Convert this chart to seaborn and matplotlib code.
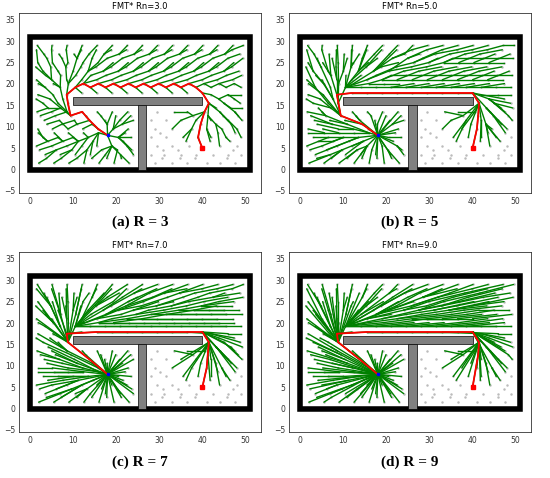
import heapq
import numpy as np
import matplotlib
matplotlib.use('Agg')
import matplotlib.pyplot as plt
import seaborn as sns
from matplotlib.patches import Rectangle

sns.set_style('white')
plt.rcParams['text.color'] = 'black'
plt.rcParams['xtick.color'] = '#333333'
plt.rcParams['ytick.color'] = '#333333'

# sample rows (y, xs) read roughly from the gray dots / tree nodes
rows = [
    (1.5, [2, 5.5, 9, 12.5, 16, 19.5, 23, 29, 33, 36.5, 41, 44, 47.5]),
    (2.6, [3.8, 7.2, 10.8, 14.3, 17.8, 21.2, 30.6, 34.8, 38.2, 45.8]),
    (3.5, [3.5, 7, 10.5, 14, 17.5, 21, 24, 28, 31, 35, 38.5, 42.5, 46, 49]),
    (4.6, [2.2, 6.1, 9.7, 13.2, 16.6, 20.3, 23.6, 30.8, 34.4, 47.2]),
    (5.5, [1.5, 5, 8.5, 12, 15.5, 19, 22.5, 29.5, 33, 37, 44, 48]),
    (6.6, [4.1, 7.6, 11.2, 14.6, 21.6, 36.2, 41.8, 46.4]),
    (7.5, [3, 6.5, 10, 13.5, 20.5, 23.5, 28, 31.5, 35.5, 39, 42, 45.5, 49]),
    (8.6, [1.9, 5.6, 8.9, 12.4, 15.9, 22.1, 30.2, 43.6, 47.6]),
    (9.5, [1.8, 5.2, 8.8, 12.2, 15.8, 19.3, 22.8, 29, 33, 37.5, 41, 44.5, 48]),
    (10.6, [3.9, 7.4, 10.9, 14.4, 17.9, 21.4, 39.6, 43.1, 46.7]),
    (11.5, [3.3, 6.8, 10.3, 13.8, 17.3, 20.8, 24, 28, 31.5, 35, 38.5, 42, 46, 49.2]),
    (12.6, [2.4, 5.9, 9.4, 12.9, 16.4, 19.9, 23.4, 37.8, 41.3, 44.8, 48.3]),
    (13.5, [1.6, 5, 8.6, 12.1, 15.6, 19.1, 22.7, 29.5, 33.5, 36.5, 40.5, 44, 47.5]),
    (14.4, [4.2, 7.1, 43.2, 46.6, 49.3]),
    (15.5, [3, 6.5, 8.8, 41.5, 45, 48.8]),
    (16.5, [1.4, 4.6, 7.6, 43.8, 47.4]),
    (17.5, [1.8, 5.3, 8.5, 42, 46, 49]),
    (17.9, [12, 15.5, 19, 22.5, 26, 29.5, 33, 36.5, 40]),
    (19.2, [3.5, 7, 10.5, 14, 17.5, 21, 24.5, 28, 31.5, 35, 38.5, 42, 45.5, 49]),
    (20.1, [1.9, 5.4, 8.9, 12.4, 15.9, 19.4, 22.9, 26.4, 29.9, 33.4, 36.9, 40.4, 43.9, 47.4]),
    (21, [1.5, 5, 8.5, 12, 15.5, 19, 22.5, 26, 29.5, 33, 36.5, 40, 43.5, 47]),
    (22, [3.6, 7.1, 10.6, 14.1, 17.6, 21.1, 24.6, 28.1, 31.6, 35.1, 38.6, 42.1, 45.6, 49.1]),
    (23, [3, 6.5, 10, 13.5, 17, 20.5, 24, 27.5, 31, 34.5, 38, 41.5, 45, 48.5]),
    (24, [1.3, 4.8, 8.3, 11.8, 15.3, 18.8, 22.3, 25.8, 29.3, 32.8, 36.3, 39.8, 43.3, 46.8]),
    (25, [1.8, 5.2, 8.8, 12.3, 15.8, 19.3, 22.8, 26.3, 29.8, 33.3, 36.8, 40.3, 43.8, 47.3]),
    (26, [3.9, 7.4, 10.9, 14.4, 17.9, 21.4, 24.9, 28.4, 31.9, 35.4, 38.9, 42.4, 45.9, 49.4]),
    (27, [3.2, 6.7, 10.2, 13.7, 17.2, 20.7, 24.2, 27.7, 31.2, 34.7, 38.2, 41.7, 45.2, 48.7]),
    (28, [1.5, 5.0, 8.4, 11.9, 15.4, 18.9, 22.4, 25.9, 29.4, 32.9, 36.4, 39.9, 43.4, 46.9]),
    (29, [1.7, 5.1, 8.6, 12.1, 15.6, 19.1, 22.6, 26.1, 29.6, 33.1, 36.6, 40.1, 43.6, 47.1, 49.5]),
]
start = (18, 8)
goal = (40, 5)
radii = [3.0, 5.0, 7.0, 9.0]
captions = ['(a) R = 3', '(b) R = 5', '(c) R = 7', '(d) R = 9']

# obstacles: x, y, w, h
bar = (10, 15, 30, 2)
stem = (25, 0, 2, 15)

pts = [start, goal] + [(x, y) for y, xs in rows for x in xs]
pts = np.array(pts, dtype=float)


def blocked(p, q):
    for t in np.linspace(0, 1, 25):
        x, y = p + t * (q - p)
        for bx, by, bw, bh in (bar, stem):
            if bx - 0.3 <= x <= bx + bw + 0.3 and by - 0.3 <= y <= by + bh + 0.3:
                return True
    return False


def grow(r):
    n = len(pts)
    cost = np.full(n, np.inf)
    parent = [-1] * n
    cost[0] = 0
    heap = [(0.0, 0)]
    done = set()
    while heap:
        c, i = heapq.heappop(heap)
        if i in done:
            continue
        done.add(i)
        if i == 1:
            break
        for j in range(n):
            if j in done:
                continue
            d = np.hypot(*(pts[j] - pts[i]))
            if d <= r and c + d < cost[j] and not blocked(pts[i], pts[j]):
                cost[j] = c + d
                parent[j] = i
                heapq.heappush(heap, (cost[j], j))
    return done, parent


fig, axes = plt.subplots(2, 2, figsize=(5.5, 4.78), dpi=100)
plt.subplots_adjust(left=0.035, right=0.965, top=0.972, bottom=0.096, wspace=0.12, hspace=0.33)

for ax, r, cap in zip(axes.flat, radii, captions):
    done, parent = grow(r * 1.1)
    ax.scatter(pts[:, 0], pts[:, 1], s=0.6, c='#bbbbbb', zorder=1)
    for j in done:
        if parent[j] >= 0:
            p, q = pts[parent[j]], pts[j]
            ax.plot([p[0], q[0]], [p[1], q[1]], color='green', lw=1.0, zorder=2)
    # path to goal
    path = [1]
    while parent[path[-1]] >= 0:
        path.append(parent[path[-1]])
    pp = pts[path]
    ax.plot(pp[:, 0], pp[:, 1], color='red', lw=1.3, zorder=3)
    ax.plot(*start, 's', color='blue', ms=2, zorder=4)
    ax.plot(*goal, 's', color='red', ms=3, zorder=4)

    ax.add_patch(Rectangle((0, 0), 51, 31, fill=False, ec='black', lw=4, zorder=5))
    for bx, by, bw, bh in (bar, stem):
        ax.add_patch(Rectangle((bx, by), bw, bh, fc='gray', ec='black', lw=0.5, zorder=5))

    ax.set_xlim(-2.5, 53.5)
    ax.set_ylim(-5.5, 36.5)
    ax.set_xticks(range(0, 51, 10))
    ax.set_yticks(range(-5, 36, 5))
    ax.tick_params(labelsize=5.5, length=2, pad=1)
    for s in ax.spines.values():
        s.set_linewidth(0.6)
        s.set_color('#333333')
    ax.set_title(f'FMT* Rn={r}', fontsize=6, pad=3)
    ax.text(0.5, -0.165, cap, transform=ax.transAxes, ha='center', va='center',
            family='Liberation Serif', fontweight='bold', fontsize=11)

plt.savefig('out.png')
